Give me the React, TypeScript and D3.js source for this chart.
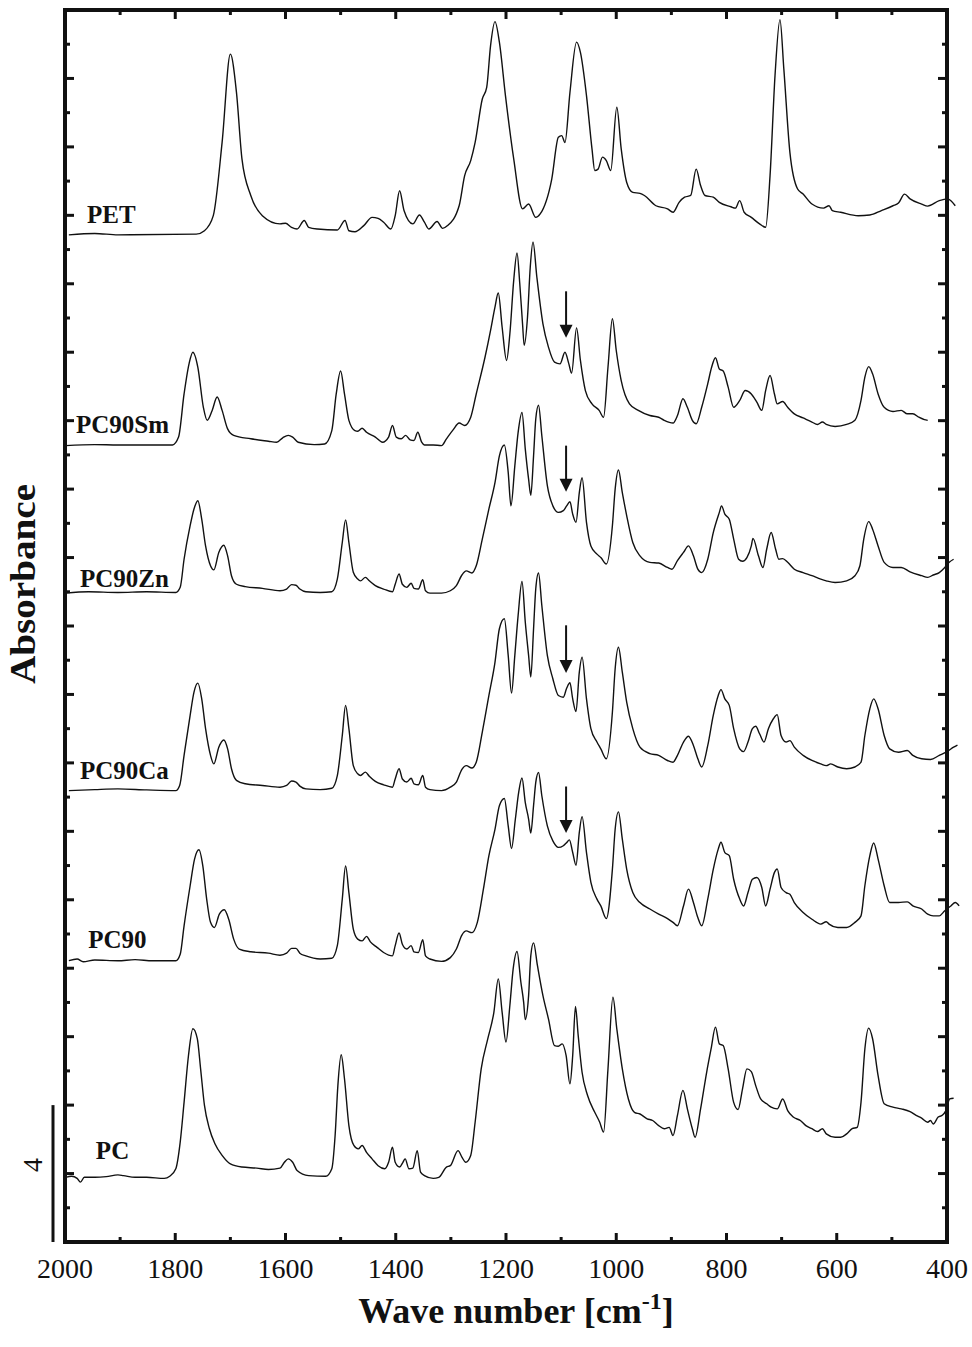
import React from "react";
import * as d3 from "d3";

type Pt = [number, number];

// wavenumber [cm-1], absorbance (stacked, arbitrary units)
const petSpectrum: Pt[] = [
  [1993, 29.43], [1946, 29.47], [1904, 29.43], [1762, 29.45], [1747, 29.55], [1731, 29.99], [1715, 32.13],
  [1700, 34.71], [1689, 33.6], [1679, 31.65], [1663, 30.58], [1642, 29.99], [1610, 29.75], [1600, 29.77],
  [1589, 29.65], [1579, 29.6], [1566, 29.85], [1558, 29.65], [1542, 29.6], [1506, 29.57], [1492, 29.85],
  [1485, 29.55], [1474, 29.52], [1458, 29.7], [1443, 29.94], [1432, 29.91], [1422, 29.8], [1409, 29.6],
  [1401, 29.99], [1393, 30.72], [1385, 30.14], [1369, 29.75], [1357, 30.01], [1348, 29.8], [1340, 29.6],
  [1325, 29.82], [1315, 29.62], [1306, 29.7], [1285, 30.28], [1275, 31.16], [1264, 31.6], [1256, 32.13],
  [1243, 33.4], [1235, 33.74], [1228, 34.96], [1220, 35.66], [1212, 35.06], [1201, 33.5], [1186, 31.65],
  [1170, 30.19], [1159, 30.33], [1146, 29.94], [1138, 30.04], [1117, 31.06], [1105, 32.28], [1099, 32.33],
  [1093, 32.13], [1084, 33.59], [1072, 35.06], [1065, 34.76], [1054, 33.5], [1044, 31.94], [1039, 31.31],
  [1033, 31.35], [1025, 31.7], [1018, 31.6], [1010, 31.31], [999, 33.16], [991, 31.94], [981, 30.96],
  [970, 30.67], [957, 30.64], [949, 30.58], [928, 30.28], [907, 30.19], [897, 30.09], [886, 30.38],
  [876, 30.53], [865, 30.58], [855, 31.35], [847, 30.87], [839, 30.58], [824, 30.53], [813, 30.38],
  [792, 30.25], [784, 30.21], [776, 30.43], [768, 30.09], [755, 29.94], [740, 29.75], [729, 29.65],
  [721, 31.16], [712, 34.08], [703, 35.72], [696, 34.28], [685, 31.84], [671, 30.77], [661, 30.62],
  [645, 30.33], [624, 30.21], [614, 30.28], [608, 30.14], [593, 30.09], [561, 29.99], [540, 30.01],
  [519, 30.14], [498, 30.28], [488, 30.36], [477, 30.62], [467, 30.48], [446, 30.33], [435, 30.27],
  [414, 30.43], [399, 30.48], [385, 30.28],
];

const pc90SmSpectrum: Pt[] = [
  [1999, 23.27], [1946, 23.3], [1904, 23.29], [1805, 23.29], [1794, 23.52], [1784, 24.78], [1775, 25.66],
  [1768, 26.0], [1759, 25.56], [1749, 24.39], [1742, 24.01], [1733, 24.3], [1724, 24.69], [1715, 24.3],
  [1705, 23.76], [1694, 23.57], [1663, 23.47], [1631, 23.4], [1616, 23.37], [1605, 23.5], [1595, 23.57],
  [1587, 23.52], [1577, 23.37], [1548, 23.3], [1529, 23.32], [1516, 23.71], [1508, 24.78], [1500, 25.45],
  [1493, 24.78], [1485, 24.01], [1474, 23.71], [1469, 23.69], [1461, 23.78], [1453, 23.66], [1437, 23.52],
  [1424, 23.37], [1413, 23.52], [1406, 23.86], [1399, 23.52], [1390, 23.47], [1382, 23.57], [1374, 23.44],
  [1367, 23.42], [1360, 23.66], [1353, 23.37], [1348, 23.29], [1332, 23.29], [1317, 23.27], [1308, 23.47],
  [1296, 23.73], [1285, 23.93], [1275, 23.86], [1264, 24.1], [1254, 24.78], [1238, 25.86], [1228, 26.64],
  [1220, 27.32], [1214, 27.73], [1207, 26.73], [1199, 25.76], [1193, 26.54], [1186, 28.1], [1180, 28.9],
  [1175, 28.0], [1170, 26.83], [1167, 26.2], [1161, 27.02], [1156, 28.49], [1151, 29.22], [1144, 28.19],
  [1133, 26.83], [1123, 26.15], [1112, 25.71], [1102, 25.66], [1093, 26.0], [1086, 25.66], [1081, 25.39],
  [1072, 26.71], [1065, 25.76], [1056, 24.88], [1044, 24.49], [1031, 24.3], [1023, 24.1], [1015, 25.56],
  [1007, 26.98], [1000, 26.05], [991, 25.17], [976, 24.49], [960, 24.3], [939, 24.15], [923, 24.1],
  [913, 24.01], [897, 23.93], [889, 24.15], [879, 24.64], [871, 24.39], [862, 24.01], [855, 23.91],
  [845, 24.39], [834, 25.08], [827, 25.56], [820, 25.84], [813, 25.51], [806, 25.45], [797, 24.98],
  [787, 24.39], [776, 24.59], [766, 24.88], [755, 24.78], [745, 24.54], [736, 24.3], [729, 24.88],
  [721, 25.32], [713, 24.78], [708, 24.49], [698, 24.56], [689, 24.39], [677, 24.2], [661, 24.08],
  [645, 23.96], [635, 23.89], [626, 23.96], [619, 23.89], [603, 23.83], [582, 23.89], [567, 24.01],
  [556, 24.59], [549, 25.27], [542, 25.58], [535, 25.37], [525, 24.78], [514, 24.39], [498, 24.27],
  [483, 24.3], [472, 24.2], [462, 24.2], [451, 24.1], [441, 24.03], [435, 24.01],
];

const pc90ZnSpectrum: Pt[] = [
  [1999, 18.96], [1957, 19.0], [1904, 18.98], [1852, 19.0], [1799, 18.98], [1791, 19.13], [1784, 19.95],
  [1773, 20.93], [1766, 21.42], [1759, 21.66], [1752, 21.12], [1745, 20.34], [1736, 19.76], [1730, 19.64],
  [1721, 20.15], [1712, 20.36], [1705, 20.05], [1698, 19.47], [1689, 19.22], [1673, 19.15], [1642, 19.1],
  [1610, 19.03], [1598, 19.08], [1589, 19.21], [1581, 19.19], [1574, 19.08], [1563, 19.0], [1537, 18.98],
  [1516, 19.0], [1506, 19.37], [1497, 20.44], [1491, 21.1], [1485, 20.44], [1477, 19.57], [1469, 19.37],
  [1464, 19.32], [1455, 19.42], [1448, 19.32], [1437, 19.18], [1422, 19.08], [1406, 19.0], [1401, 19.22],
  [1394, 19.52], [1388, 19.22], [1380, 19.13], [1372, 19.25], [1367, 19.1], [1359, 19.08], [1351, 19.35],
  [1346, 19.03], [1338, 18.96], [1317, 18.96], [1301, 19.03], [1290, 19.18], [1280, 19.49], [1272, 19.61],
  [1262, 19.55], [1254, 19.76], [1243, 20.54], [1231, 21.42], [1220, 22.19], [1212, 22.97], [1203, 23.29],
  [1196, 22.49], [1191, 21.51], [1184, 22.68], [1178, 23.66], [1171, 24.24], [1165, 23.17], [1159, 22.29],
  [1155, 21.82], [1150, 22.97], [1146, 24.05], [1141, 24.45], [1135, 23.56], [1125, 22.1], [1115, 21.51],
  [1105, 21.32], [1096, 21.37], [1090, 21.51], [1084, 21.63], [1079, 21.27], [1073, 21.03], [1067, 21.9],
  [1062, 22.33], [1054, 21.03], [1046, 20.34], [1035, 20.1], [1028, 20.0], [1018, 19.81], [1007, 20.93],
  [1002, 22.0], [996, 22.56], [989, 21.9], [981, 21.22], [970, 20.44], [957, 20.05], [939, 19.86],
  [923, 19.84], [907, 19.71], [899, 19.66], [889, 19.91], [878, 20.15], [869, 20.34], [860, 20.05],
  [852, 19.66], [845, 19.56], [834, 19.95], [824, 20.73], [813, 21.32], [809, 21.51], [803, 21.27],
  [795, 21.12], [787, 20.54], [778, 19.95], [771, 19.89], [763, 20.0], [755, 20.34], [752, 20.56],
  [742, 20.05], [734, 19.71], [727, 20.25], [719, 20.73], [711, 20.25], [705, 19.95], [698, 19.97],
  [689, 19.86], [677, 19.66], [661, 19.56], [645, 19.47], [629, 19.37], [619, 19.32], [603, 19.27],
  [582, 19.32], [567, 19.47], [558, 19.76], [551, 20.54], [542, 21.05], [535, 20.83], [525, 20.34],
  [514, 19.86], [498, 19.71], [483, 19.71], [467, 19.58], [446, 19.47], [435, 19.42], [425, 19.49],
  [414, 19.56], [404, 19.71], [396, 19.86], [388, 19.95],
];

const pc90CaSpectrum: Pt[] = [
  [1993, 13.19], [1946, 13.22], [1904, 13.24], [1852, 13.21], [1799, 13.19], [1792, 13.34], [1784, 14.22],
  [1773, 15.39], [1766, 16.07], [1759, 16.33], [1752, 15.87], [1745, 15.0], [1736, 14.22], [1730, 13.97],
  [1721, 14.46], [1712, 14.67], [1705, 14.41], [1698, 13.83], [1689, 13.49], [1673, 13.39], [1642, 13.34],
  [1610, 13.29], [1598, 13.34], [1589, 13.47], [1581, 13.44], [1574, 13.32], [1563, 13.24], [1537, 13.22],
  [1516, 13.26], [1506, 13.63], [1497, 14.8], [1491, 15.68], [1485, 15.0], [1477, 13.92], [1469, 13.68],
  [1464, 13.63], [1455, 13.73], [1448, 13.61], [1437, 13.46], [1422, 13.36], [1406, 13.29], [1401, 13.53],
  [1394, 13.83], [1388, 13.53], [1380, 13.44], [1372, 13.55], [1367, 13.39], [1359, 13.36], [1351, 13.63],
  [1346, 13.29], [1338, 13.22], [1317, 13.19], [1301, 13.29], [1290, 13.44], [1280, 13.81], [1272, 13.92],
  [1262, 13.85], [1254, 14.02], [1243, 14.9], [1231, 15.97], [1220, 16.94], [1212, 17.92], [1203, 18.21],
  [1196, 17.14], [1190, 16.04], [1184, 17.14], [1178, 18.31], [1171, 19.3], [1165, 18.11], [1159, 17.14],
  [1155, 16.51], [1150, 17.92], [1146, 19.09], [1141, 19.55], [1135, 18.6], [1125, 17.14], [1115, 16.46],
  [1105, 15.97], [1096, 15.92], [1090, 16.18], [1084, 16.34], [1079, 15.87], [1073, 15.5], [1067, 16.65],
  [1062, 17.09], [1054, 15.87], [1046, 15.0], [1035, 14.61], [1028, 14.41], [1018, 14.12], [1007, 15.48],
  [1002, 16.75], [996, 17.38], [989, 16.65], [981, 15.77], [970, 15.0], [957, 14.46], [939, 14.27],
  [923, 14.22], [907, 14.07], [897, 14.02], [889, 14.22], [878, 14.61], [869, 14.78], [860, 14.51],
  [852, 14.12], [845, 13.88], [834, 14.51], [824, 15.39], [815, 15.97], [810, 16.14], [803, 15.87],
  [795, 15.68], [787, 15.0], [776, 14.41], [769, 14.33], [761, 14.61], [753, 15.0], [747, 15.07],
  [740, 14.85], [732, 14.61], [724, 15.0], [715, 15.29], [708, 15.41], [701, 14.8], [692, 14.61],
  [685, 14.65], [677, 14.46], [661, 14.22], [645, 14.07], [629, 13.97], [619, 13.92], [611, 13.97],
  [598, 13.88], [582, 13.83], [567, 13.88], [556, 14.02], [549, 14.8], [540, 15.58], [533, 15.87],
  [525, 15.58], [514, 14.8], [504, 14.41], [488, 14.31], [472, 14.36], [462, 14.22], [446, 14.12],
  [430, 14.1], [414, 14.22], [399, 14.34], [388, 14.46], [381, 14.52],
];

const pc90Spectrum: Pt[] = [
  [1993, 8.22], [1978, 8.27], [1967, 8.19], [1946, 8.24], [1904, 8.22], [1873, 8.25], [1841, 8.22],
  [1799, 8.22], [1791, 8.41], [1784, 9.24], [1773, 10.41], [1765, 11.19], [1757, 11.46], [1750, 10.99],
  [1743, 10.02], [1736, 9.34], [1729, 9.19], [1720, 9.58], [1711, 9.71], [1703, 9.43], [1694, 8.85],
  [1684, 8.56], [1663, 8.48], [1631, 8.44], [1610, 8.38], [1598, 8.44], [1589, 8.58], [1581, 8.58],
  [1574, 8.44], [1563, 8.36], [1537, 8.27], [1516, 8.29], [1506, 8.66], [1497, 10.02], [1491, 10.99],
  [1485, 10.21], [1477, 9.14], [1469, 8.85], [1461, 8.8], [1453, 8.93], [1446, 8.77], [1434, 8.61],
  [1422, 8.46], [1406, 8.36], [1401, 8.66], [1394, 9.03], [1388, 8.7], [1380, 8.56], [1372, 8.66],
  [1367, 8.48], [1359, 8.46], [1351, 8.83], [1346, 8.36], [1338, 8.27], [1317, 8.2], [1301, 8.31],
  [1290, 8.56], [1280, 8.97], [1272, 9.09], [1262, 9.04], [1252, 9.34], [1241, 10.31], [1231, 11.29],
  [1220, 12.06], [1212, 12.75], [1203, 12.96], [1196, 12.16], [1190, 11.5], [1183, 12.36], [1177, 13.14],
  [1171, 13.56], [1165, 12.84], [1159, 12.36], [1155, 11.95], [1150, 12.75], [1146, 13.43], [1141, 13.72],
  [1135, 13.04], [1125, 12.16], [1115, 11.72], [1105, 11.53], [1096, 11.58], [1090, 11.67], [1085, 11.75],
  [1079, 11.38], [1073, 11.01], [1067, 11.97], [1062, 12.43], [1054, 11.38], [1046, 10.51], [1035, 10.02],
  [1028, 9.82], [1018, 9.45], [1007, 10.89], [1002, 12.06], [996, 12.57], [989, 11.77], [981, 10.89],
  [970, 10.21], [957, 9.92], [939, 9.73], [923, 9.58], [907, 9.45], [897, 9.34], [889, 9.24], [878, 9.82],
  [869, 10.31], [860, 9.92], [852, 9.48], [845, 9.24], [834, 10.02], [824, 10.89], [815, 11.48],
  [810, 11.68], [803, 11.38], [795, 11.29], [787, 10.6], [776, 10.02], [769, 9.82], [761, 10.21],
  [753, 10.6], [745, 10.65], [736, 10.36], [729, 9.82], [721, 10.31], [713, 10.8], [708, 10.9],
  [701, 10.36], [692, 10.21], [685, 10.16], [677, 9.92], [661, 9.63], [645, 9.43], [629, 9.29],
  [619, 9.36], [614, 9.29], [598, 9.19], [582, 9.19], [567, 9.34], [556, 9.53], [549, 10.41],
  [540, 11.29], [533, 11.66], [525, 11.19], [514, 10.41], [504, 9.92], [488, 9.92], [472, 9.94],
  [462, 9.82], [446, 9.73], [435, 9.58], [425, 9.53], [414, 9.53], [404, 9.68], [393, 9.82],
  [385, 9.92], [378, 9.82],
];

const pcSpectrum: Pt[] = [
  [1999, 1.89], [1988, 1.92], [1978, 1.86], [1972, 1.75], [1965, 1.89], [1946, 1.89], [1925, 1.91],
  [1904, 1.96], [1894, 1.94], [1873, 1.89], [1852, 1.89], [1820, 1.86], [1810, 1.92], [1799, 2.14],
  [1791, 2.92], [1784, 4.08], [1776, 5.45], [1768, 6.23], [1760, 5.94], [1754, 5.06], [1747, 3.99],
  [1738, 3.31], [1728, 2.87], [1715, 2.53], [1700, 2.28], [1679, 2.19], [1652, 2.16], [1631, 2.12],
  [1610, 2.16], [1602, 2.33], [1595, 2.43], [1587, 2.33], [1579, 2.09], [1558, 1.94], [1527, 1.92],
  [1516, 2.14], [1510, 3.11], [1505, 4.57], [1499, 5.47], [1493, 4.77], [1485, 3.4], [1476, 2.82],
  [1468, 2.72], [1461, 2.82], [1453, 2.62], [1443, 2.43], [1432, 2.23], [1420, 2.14], [1413, 2.33],
  [1406, 2.77], [1401, 2.33], [1393, 2.19], [1387, 2.33], [1383, 2.43], [1376, 2.14], [1369, 2.16],
  [1361, 2.67], [1355, 2.04], [1348, 1.94], [1332, 1.86], [1322, 1.89], [1308, 2.19], [1301, 2.23],
  [1287, 2.67], [1280, 2.48], [1273, 2.33], [1264, 2.53], [1256, 3.5], [1245, 5.06], [1233, 5.94],
  [1222, 6.71], [1214, 7.69], [1207, 6.71], [1200, 5.84], [1193, 6.91], [1187, 7.98], [1180, 8.49],
  [1173, 7.59], [1168, 7.01], [1165, 6.5], [1159, 7.2], [1155, 8.37], [1150, 8.74], [1143, 8.08],
  [1133, 7.2], [1123, 6.52], [1112, 5.74], [1105, 5.72], [1098, 5.79], [1091, 5.45], [1084, 4.62],
  [1079, 5.45], [1074, 6.88], [1069, 6.03], [1062, 4.96], [1052, 4.28], [1039, 3.79], [1030, 3.5],
  [1023, 3.21], [1015, 5.06], [1006, 7.15], [999, 6.23], [989, 5.06], [978, 4.18], [967, 3.79],
  [957, 3.74], [944, 3.6], [934, 3.55], [923, 3.4], [913, 3.31], [904, 3.35], [897, 3.11], [889, 3.7],
  [879, 4.43], [871, 3.89], [862, 3.31], [857, 3.06], [847, 3.89], [836, 4.96], [828, 5.64], [820, 6.28],
  [813, 5.79], [806, 5.74], [797, 5.06], [787, 4.08], [779, 3.87], [771, 4.47], [763, 5.06], [755, 4.98],
  [747, 4.57], [738, 4.18], [727, 4.04], [719, 3.94], [708, 3.89], [698, 4.18], [689, 3.84], [679, 3.65],
  [666, 3.55], [656, 3.4], [645, 3.31], [635, 3.23], [626, 3.31], [619, 3.16], [603, 3.06], [593, 3.06],
  [582, 3.16], [572, 3.31], [563, 3.35], [556, 4.08], [549, 5.64], [542, 6.25], [535, 5.94], [525, 4.86],
  [514, 4.04], [498, 3.94], [483, 3.89], [467, 3.81], [456, 3.7], [446, 3.62], [435, 3.5], [430, 3.55],
  [425, 3.45], [416, 3.65], [409, 3.7], [402, 3.84], [395, 4.18], [388, 4.2],
];

const sampleNames = ["PET", "PC90Sm", "PC90Zn", "PC90Ca", "PC90", "PC"];
// where each name sits: [wavenumber of left edge, absorbance of baseline]
const nameAnchors: Pt[] = [
  [1960, 29.78], [1980, 23.64], [1973, 19.14], [1973, 13.53], [1958, 8.59], [1944, 2.43],
];

// arrows marking the 1090 cm-1 band: [wavenumber, tail, tip]
const arrowWave = 1091;
const arrowTails = [27.78, 23.27, 18.02, 13.31];
const arrowTips = [26.42, 21.92, 16.63, 11.95];

const xTickLabels = [2000, 1800, 1600, 1400, 1200, 1000, 800, 600, 400];
const scaleBarSize = 4;

const W = 972;
const H = 1347;
const left = 65;
const right = 947;
const top = 10;
const bottom = 1242;
const serif = "'Liberation Serif', 'Times New Roman', serif";

export default function App() {
  const x = d3.scaleLinear().domain([2000, 400]).range([left, right]);
  const y = d3.scaleLinear().domain([0, 36]).range([bottom, top]);

  const line = d3
    .line<Pt>()
    .x((d) => x(d[0]))
    .y((d) => y(d[1]))
    .curve(d3.curveMonotoneX);

  const spectra = [petSpectrum, pc90SmSpectrum, pc90ZnSpectrum, pc90CaSpectrum, pc90Spectrum, pcSpectrum];

  const xTicks = d3.range(400, 2001, 100);
  const yTicks = d3.range(0, 37, 1);

  return (
    <svg
      width={W}
      height={H}
      viewBox={`0 0 ${W} ${H}`}
      style={{ position: "absolute", left: 0, top: 0, background: "#fff" }}
    >
      <rect x={0} y={0} width={W} height={H} fill="#fff" />

      {spectra.map((s, i) => (
        <path key={i} d={line(s) || ""} fill="none" stroke="#111" strokeWidth={1.4} strokeLinejoin="round" />
      ))}

      {/* arrows */}
      {arrowTails.map((t, i) => {
        const ax = x(arrowWave);
        const y0 = y(t);
        const y1 = y(arrowTips[i]);
        return (
          <g key={i}>
            <line x1={ax} x2={ax} y1={y0} y2={y1 - 10} stroke="#111" strokeWidth={2} />
            <path d={`M${ax - 6.5},${y1 - 13} L${ax + 6.5},${y1 - 13} L${ax},${y1} Z`} fill="#111" />
          </g>
        );
      })}

      {/* sample names */}
      {sampleNames.map((n, i) => (
        <text
          key={n}
          x={x(nameAnchors[i][0])}
          y={y(nameAnchors[i][1])}
          fontFamily={serif}
          fontWeight="bold"
          fontSize={25}
          fill="#111"
        >
          {n}
        </text>
      ))}

      {/* frame */}
      <rect x={left} y={top} width={right - left} height={bottom - top} fill="none" stroke="#111" strokeWidth={4} />

      {/* x ticks */}
      {xTicks.map((v) => {
        const len = v % 200 === 0 ? 9 : 5;
        return (
          <g key={v}>
            <line x1={x(v)} x2={x(v)} y1={bottom} y2={bottom - len} stroke="#111" strokeWidth={3} />
            <line x1={x(v)} x2={x(v)} y1={top} y2={top + len} stroke="#111" strokeWidth={3} />
          </g>
        );
      })}

      {/* y ticks */}
      {yTicks.map((v) => {
        const len = v % 2 === 0 ? 9 : 5;
        return (
          <g key={v}>
            <line x1={left} x2={left + len} y1={y(v)} y2={y(v)} stroke="#111" strokeWidth={3} />
            <line x1={right} x2={right - len} y1={y(v)} y2={y(v)} stroke="#111" strokeWidth={3} />
          </g>
        );
      })}

      {/* x tick labels */}
      {xTickLabels.map((v) => (
        <text key={v} x={x(v)} y={1278} textAnchor="middle" fontFamily={serif} fontSize={28} fill="#111">
          {v}
        </text>
      ))}

      {/* scale bar */}
      <line x1={53} x2={53} y1={y(0)} y2={y(scaleBarSize)} stroke="#111" strokeWidth={3} />
      <text
        transform={`translate(42, 1165) rotate(-90)`}
        textAnchor="middle"
        fontFamily={serif}
        fontSize={28}
        fill="#111"
      >
        {scaleBarSize}
      </text>

      {/* axis titles */}
      <text
        transform={`translate(35, 584) rotate(-90)`}
        textAnchor="middle"
        fontFamily={serif}
        fontWeight="bold"
        fontSize={36}
        textLength={200}
        lengthAdjust="spacingAndGlyphs"
        fill="#111"
      >
        Absorbance
      </text>
      <text x={516} y={1323} textAnchor="middle" fontFamily={serif} fontWeight="bold" fontSize={36} fill="#111">
        Wave number [cm
        <tspan dy={-14} fontSize={24}>
          -1
        </tspan>
        <tspan dy={14}>]</tspan>
      </text>
    </svg>
  );
}
